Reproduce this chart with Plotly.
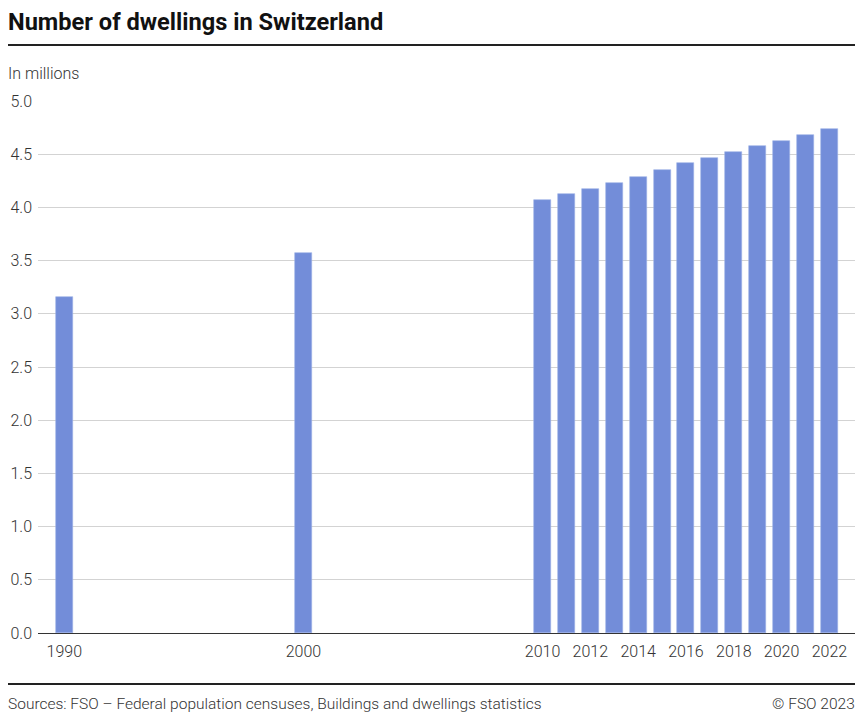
import plotly.graph_objects as go

years = [1990, 2000, 2010, 2011, 2012, 2013, 2014, 2015, 2016, 2017, 2018, 2019, 2020, 2021, 2022]
dwellings = [3.157, 3.569, 4.072, 4.126, 4.172, 4.231, 4.285, 4.350, 4.419, 4.463, 4.522, 4.578, 4.628, 4.681, 4.735]
x_ticks = [1990, 2000, 2010, 2012, 2014, 2016, 2018, 2020, 2022]
y_ticks = [0, 0.5, 1, 1.5, 2, 2.5, 3, 3.5, 4, 4.5, 5]

title = "Number of dwellings in Switzerland"
unit = "In millions"
source = "Sources: FSO – Federal population censuses, Buildings and dwellings statistics"
copyright_txt = "© FSO 2023"

FONT = "Roboto, Arial, sans-serif"
W, H = 862, 721
ML, MR, MT, MB = 38, 7, 101, 88
PH = H - MT - MB
PW = W - ML - MR

def py(p):
    return (H - MB - p) / PH

def px(p):
    return (p - ML) / PW

fig = go.Figure(go.Bar(
    x=years, y=dwellings, width=0.71,
    marker=dict(color="#738dd9", line=dict(color="#9cb0e6", width=0.6)),
))

tickfont = dict(size=16, color="#333333", family=FONT, weight=300)

fig.update_layout(
    width=W, height=H,
    margin=dict(l=ML, r=MR, t=MT, b=MB),
    paper_bgcolor="white", plot_bgcolor="white",
    font=dict(family=FONT, color="#333333"),
    showlegend=False,
    xaxis=dict(range=[1988.9, 2023.07], tickvals=x_ticks, ticktext=[str(v) for v in x_ticks],
               showgrid=False, zeroline=False, showline=True, linecolor="#333333", linewidth=1,
               ticks="", tickfont=tickfont, ticklabelstandoff=4),
    yaxis=dict(range=[0, 5.0], tickvals=y_ticks, tickformat=".1f",
               showgrid=True, gridcolor="#d3d3d3", gridwidth=1, zeroline=False,
               ticks="", tickfont=tickfont, ticklabelstandoff=5),
    bargap=0,
)

fig.add_annotation(text="<b>" + title + "</b>", xref="paper", yref="paper",
                   x=px(6), y=py(22), xanchor="left", yanchor="middle", showarrow=False,
                   font=dict(size=23.6, color="#111111", family=FONT))
fig.add_annotation(text=unit, xref="paper", yref="paper",
                   x=px(6), y=py(73), xanchor="left", yanchor="middle", showarrow=False,
                   font=dict(size=16, color="#333333", family=FONT, weight=300))
fig.add_annotation(text=source, xref="paper", yref="paper",
                   x=px(6), y=py(704), xanchor="left", yanchor="middle", showarrow=False,
                   font=dict(size=15.5, color="#333333", family=FONT, weight=300))
fig.add_annotation(text=copyright_txt, xref="paper", yref="paper",
                   x=px(857), y=py(704), xanchor="right", yanchor="middle", showarrow=False,
                   font=dict(size=15.5, color="#333333", family=FONT, weight=300))

fig.add_shape(type="line", xref="paper", yref="paper", x0=px(8), x1=px(855), y0=py(45), y1=py(45),
              line=dict(color="#222222", width=2))
fig.add_shape(type="line", xref="paper", yref="paper", x0=px(8), x1=px(855), y0=py(684), y1=py(684),
              line=dict(color="#222222", width=2))

fig.write_html("out.html")
